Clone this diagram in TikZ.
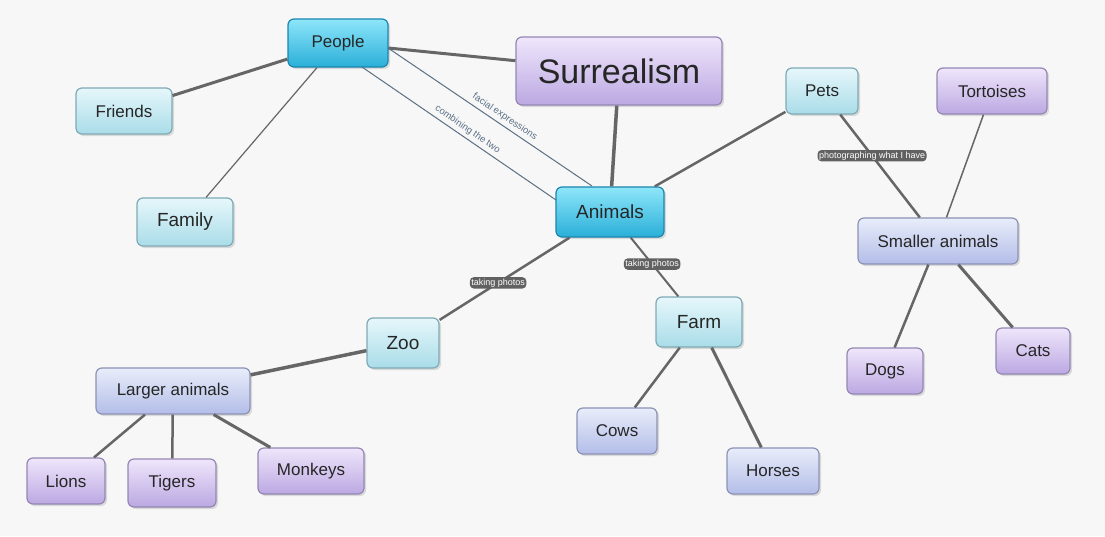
\documentclass[tikz,border=0pt]{standalone}
\usepackage{fontspec}
\setmainfont{Liberation Sans}
\usetikzlibrary{shadows,calc}
\definecolor{edge}{HTML}{666666}
\definecolor{bT}{HTML}{8EE6FA}\definecolor{bB}{HTML}{2AAFD8}\definecolor{bD}{HTML}{1B86AE}
\definecolor{cT}{HTML}{E6F7FB}\definecolor{cB}{HTML}{A9DCE8}\definecolor{cD}{HTML}{7FAAB5}
\definecolor{pT}{HTML}{EFE6FB}\definecolor{pB}{HTML}{BBA8E2}\definecolor{pD}{HTML}{9487B3}
\definecolor{lT}{HTML}{E8EDFA}\definecolor{lB}{HTML}{B3BDE8}\definecolor{lD}{HTML}{8C93B5}
\definecolor{slc}{HTML}{5A7085}
\tikzset{
 x=1pt,y=1pt,
 box/.style={rounded corners=6pt,draw,line width=1.2pt,minimum height=46pt,inner sep=0pt,font=\fontsize{17}{20}\selectfont,text=black!85,drop shadow={opacity=0.25,shadow xshift=2pt,shadow yshift=-2pt}},
 blue/.style={box,top color=bT,bottom color=bB,draw=bD},
 cyanb/.style={box,top color=cT,bottom color=cB,draw=cD},
 purp/.style={box,top color=pT,bottom color=pB,draw=pD},
 lav/.style={box,top color=lT,bottom color=lB,draw=lD},
 e/.style={draw=edge,line width=#1},
 lab/.style={fill=black!62,text=white,rounded corners=4pt,inner sep=1.5pt,font=\fontsize{9}{10}\selectfont},
 sl/.style={font=\fontsize{9.5}{11}\selectfont,text=slc,sloped},
}
\begin{document}
\begin{tikzpicture}
\fill[black!3] (0,0) rectangle (1105,-536);
\useasboundingbox (0,0) rectangle (1105,-536);
\node[blue,minimum width=100pt,minimum height=48pt] (People) at (338,-43) {People};
\node[purp,minimum width=206pt,minimum height=68pt,font=\fontsize{34}{38}\selectfont] (Sur) at (619,-71) {Surrealism};
\node[cyanb,minimum width=96pt] (Friends) at (124,-111) {Friends};
\node[cyanb,minimum width=96pt,minimum height=48pt,font=\fontsize{19}{22}\selectfont] (Family) at (185,-222) {Family};
\node[cyanb,minimum width=72pt] (Pets) at (822,-91) {Pets};
\node[purp,minimum width=110pt] (Tort) at (992,-91) {Tortoises};
\node[blue,minimum width=108pt,minimum height=50pt,font=\fontsize{19}{22}\selectfont] (Animals) at (610,-212) {Animals};
\node[lav,minimum width=160pt] (Small) at (938,-241) {Smaller animals};
\node[cyanb,minimum width=72pt,minimum height=50pt,font=\fontsize{19}{22}\selectfont] (Zoo) at (403,-343) {Zoo};
\node[cyanb,minimum width=86pt,minimum height=50pt,font=\fontsize{19}{22}\selectfont] (Farm) at (699,-322) {Farm};
\node[lav,minimum width=154pt] (Large) at (173,-391) {Larger animals};
\node[purp,minimum width=76pt] (Dogs) at (885,-371) {Dogs};
\node[purp,minimum width=74pt] (Cats) at (1033,-351) {Cats};
\node[lav,minimum width=80pt] (Cows) at (617,-431) {Cows};
\node[lav,minimum width=92pt] (Horses) at (773,-471) {Horses};
\node[purp,minimum width=78pt] (Lions) at (66,-481) {Lions};
\node[purp,minimum width=88pt,minimum height=48pt] (Tigers) at (172,-483) {Tigers};
\node[purp,minimum width=106pt] (Monkeys) at (311,-471) {Monkeys};
\draw[e=3pt] (People) -- (Sur);
\draw[e=3pt] (People) -- (Friends);
\draw[e=1.2pt] (People) -- (Family);
\draw[e=3.5pt] (Sur) -- (Animals);
\draw[e=2.5pt] (Animals) -- (Pets);
\draw[e=2.5pt] (Pets) -- node[lab,pos=0.4]{photographing what I have} (Small);
\draw[e=1.5pt] (Tort) -- (Small);
\draw[e=2.5pt] (Small) -- (Dogs);
\draw[e=3pt] (Small) -- (Cats);
\draw[e=2.5pt] (Animals) -- node[lab,pos=0.55]{taking photos} (Zoo);
\draw[e=2pt] (Animals) -- node[lab,pos=0.45]{taking photos} (Farm);
\draw[e=2.5pt] (Farm) -- (Cows);
\draw[e=3pt] (Farm) -- (Horses);
\draw[e=3.5pt] (Zoo) -- (Large);
\draw[e=2.5pt] (Large) -- (Lions);
\draw[e=2.5pt] (Large) -- (Tigers);
\draw[e=3pt] (Large) -- (Monkeys);
\coordinate (a1) at (388,-48); \coordinate (a2) at (592,-186);
\coordinate (b1) at (362,-67); \coordinate (b2) at (556,-200);
\draw[slc,line width=1pt] (a1) -- node[sl,above,pos=0.55]{facial expressions} (a2);
\draw[slc,line width=1pt] (b1) -- node[sl,above,pos=0.52]{combining the two} (b2);
\end{tikzpicture}
\end{document}
